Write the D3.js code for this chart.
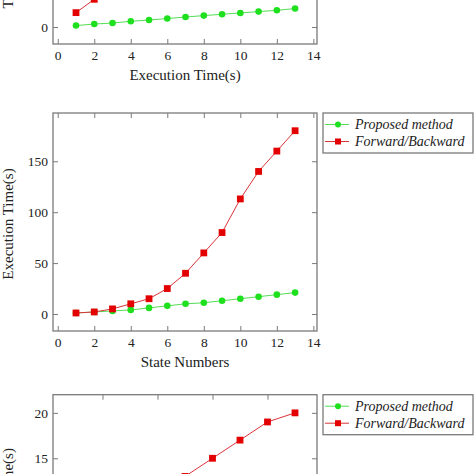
<!DOCTYPE html>
<html>
<head>
<meta charset="utf-8">
<script src="https://cdnjs.cloudflare.com/ajax/libs/d3/7.8.5/d3.min.js"></script>
<style>
  body { margin: 0; background: #fff; }
  svg { display: block; }
  text { font-family: "Liberation Serif", "Times New Roman", serif; fill: #222; }
</style>
</head>
<body>
<script>
// values
var stateNumbers = [1, 2, 3, 4, 5, 6, 7, 8, 9, 10, 11, 12, 13];

// top chart (only its lower part is in view)
var topProposed = [1.4, 2.9, 3.9, 5.6, 6.9, 8.3, 9.8, 11.2, 12.5, 13.8, 15.1, 16.4, 18.1];
var topForwardX = [1, 2];
var topForward = [14.1, 27.2];

// middle chart
var midProposed = [1, 2, 3, 4, 6, 8, 10, 11, 13, 15, 17, 19, 21];
var midForward = [1, 2, 5, 10, 15, 25, 40, 60, 80, 113, 140, 160, 180];

// bottom chart (only its upper part is in view)
var botForwardX = [5, 6, 7, 8, 9];
var botForward = [13, 15, 17, 19, 20];

var xTicks = [0, 2, 4, 6, 8, 10, 12, 14];
var topYTicks = [0];
var yTicks = [0, 50, 100, 150];
var botXTicks = [2, 4, 6, 8];
var botYTicks = [15, 20];

var legendNames = ["Proposed method", "Forward/Backward"];

var svgWidth = 474, svgHeight = 474;
var green = "#1fe01f", greenLine = "#55dd55";
var red = "#e30000", redLine = "#d8343a";
var frameColor = "#7a7a7a";

var svg = d3.select("body")
            .append("svg")
            .attr("width", svgWidth)
            .attr("height", svgHeight);

function drawChart(c) {
  var x = d3.scaleLinear().domain(c.xDomain).range([53, 317]);
  var y = d3.scaleLinear().domain(c.yDomain).range([c.bottom, c.top]);
  var g = svg.append("g");

  // inside ticks on all four sides
  g.append("g")
      .attr("transform", `translate(0, ${c.bottom})`)
      .call(d3.axisBottom(x).tickValues(c.xTicks).tickSize(-5).tickPadding(6));
  g.append("g")
      .attr("transform", `translate(0, ${c.top})`)
      .call(d3.axisTop(x).tickValues(c.xTicks).tickSize(-5).tickFormat(""));
  g.append("g")
      .attr("transform", "translate(53, 0)")
      .call(d3.axisLeft(y).tickValues(c.yTicks).tickSize(-5).tickPadding(5));
  g.append("g")
      .attr("transform", "translate(317, 0)")
      .call(d3.axisRight(y).tickValues(c.yTicks).tickSize(-5).tickFormat(""));

  g.selectAll(".domain").remove();
  g.selectAll(".tick line").attr("stroke", frameColor);
  g.selectAll(".tick text")
      .style("font-family", '"Liberation Serif", serif')
      .style("font-size", "13.5px")
      .attr("fill", "#222");

  g.append("rect")
      .attr("x", 53).attr("y", c.top)
      .attr("width", 264).attr("height", c.bottom - c.top)
      .attr("fill", "none")
      .attr("stroke", frameColor)
      .attr("stroke-width", 1.3);

  var line = d3.line()
      .x(d => x(d[0]))
      .y(d => y(d[1]));

  if (c.proposed.length) {
    var pts = c.proposedX.map((v, i) => [v, c.proposed[i]]);
    g.append("path").datum(pts)
        .attr("d", line).attr("fill", "none")
        .attr("stroke", greenLine).attr("stroke-width", 1);
    g.selectAll(".pm").data(pts).enter().append("circle")
        .attr("cx", d => x(d[0])).attr("cy", d => y(d[1]))
        .attr("r", 3.3).attr("fill", green);
  }
  if (c.forward.length) {
    var pts2 = c.forwardX.map((v, i) => [v, c.forward[i]]);
    g.append("path").datum(pts2)
        .attr("d", line).attr("fill", "none")
        .attr("stroke", redLine).attr("stroke-width", 1);
    g.selectAll(".fb").data(pts2).enter().append("rect")
        .attr("x", d => x(d[0]) - 3.4).attr("y", d => y(d[1]) - 3.4)
        .attr("width", 6.8).attr("height", 6.8).attr("fill", red);
  }

  if (c.xLabel) {
    g.append("text")
        .attr("x", 185).attr("y", c.bottom + 31)
        .attr("text-anchor", "middle")
        .attr("dominant-baseline", "central")
        .style("font-size", "15px")
        .text(c.xLabel);
  }
  if (c.yLabel) {
    g.append("text")
        .attr("transform", `translate(13, ${c.yLabelY}) rotate(-90)`)
        .attr("text-anchor", c.yLabelAnchor)
        .style("font-size", "15px")
        .text(c.yLabel);
  }

  if (c.legend) {
    var lg = g.append("g").attr("transform", `translate(323, ${c.top})`);
    lg.append("rect")
        .attr("x", 0).attr("y", 0).attr("width", 150).attr("height", 40)
        .attr("fill", "#fff").attr("stroke", frameColor).attr("stroke-width", 1.3);
    legendNames.forEach(function(name, i) {
      var ly = 11.5 + i * 17;
      lg.append("line")
          .attr("x1", 2).attr("x2", 26).attr("y1", ly).attr("y2", ly)
          .attr("stroke", i === 0 ? greenLine : redLine).attr("stroke-width", 1);
      if (i === 0) {
        lg.append("circle").attr("cx", 15).attr("cy", ly).attr("r", 3).attr("fill", green);
      } else {
        lg.append("rect").attr("x", 12).attr("y", ly - 3).attr("width", 6).attr("height", 6).attr("fill", red);
      }
      lg.append("text")
          .attr("x", 32).attr("y", ly)
          .attr("dominant-baseline", "central")
          .style("font-size", "14px")
          .style("font-style", "italic")
          .text(name);
    });
  }
}

drawChart({
  top: -174, bottom: 44,
  xDomain: [-0.26, 14.2], yDomain: [-16.7, 197.4],
  xTicks: xTicks, yTicks: topYTicks,
  proposedX: stateNumbers, proposed: topProposed,
  forwardX: topForwardX, forward: topForward,
  xLabel: "Execution Time(s)",
  yLabel: "Time(s)", yLabelY: 8.5, yLabelAnchor: "start",
  legend: false
});

drawChart({
  top: 113, bottom: 331,
  xDomain: [-0.26, 14.2], yDomain: [-16.7, 197.4],
  xTicks: xTicks, yTicks: yTicks,
  proposedX: stateNumbers, proposed: midProposed,
  forwardX: stateNumbers, forward: midForward,
  xLabel: "State Numbers",
  yLabel: "Execution Time(s)", yLabelY: 224, yLabelAnchor: "middle",
  legend: true
});

drawChart({
  top: 394.7, bottom: 612.7,
  xDomain: [0.2, 9.8], yDomain: [-2, 22],
  xTicks: botXTicks, yTicks: botYTicks,
  proposedX: [], proposed: [],
  forwardX: botForwardX, forward: botForward,
  xLabel: null,
  yLabel: "Execution Time(s)", yLabelY: 503.7, yLabelAnchor: "middle",
  legend: true
});
</script>
</body>
</html>
